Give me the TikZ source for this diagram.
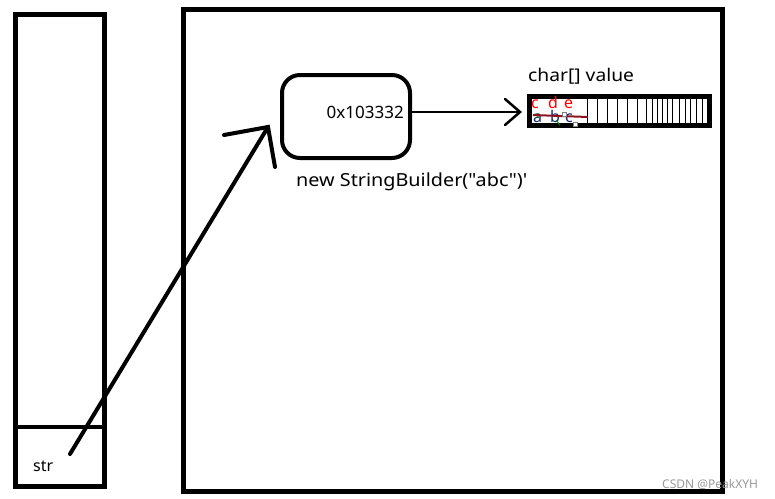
\documentclass[tikz,border=0pt]{standalone}
\usepackage{fontspec}
\setmainfont{Noto Sans}
\newfontfamily\uifont[FakeStretch=1.1]{Noto Sans}
\usetikzlibrary{calc}
\begin{document}
\begin{tikzpicture}[x=1pt,y=-1pt,
  heavy/.style={line width=5pt},
  objbox/.style={draw,line width=4pt,rounded corners=18pt},
  lbl/.style={inner sep=0pt,font=\uifont\fontsize{18}{18}\selectfont},
  cell/.style={line width=1pt},
  redch/.style={inner sep=0pt,anchor=base west,text=red,font=\fontsize{16}{16}\selectfont},
  bluech/.style={inner sep=0pt,anchor=base west,text={rgb,255:red,20;green,40;blue,110},font=\fontsize{16}{16}\selectfont},
  barb/.style={line width=4pt,line cap=round}]
\useasboundingbox (0,0) rectangle (775,498);
% stack frame
\draw[heavy] (15.5,14.5) rectangle (104.5,486);
\draw[line width=4pt] (15.5,427) -- (104.5,427);
\node[inner sep=0pt,anchor=west,font=\fontsize{16}{16}\selectfont] (str) at (33,466) {str};
% heap
\draw[heavy] (183,9.5) rectangle (722,491);
% object box
\node[objbox,minimum width=128pt,minimum height=83pt] (obj) at (346,116.5) {};
\node[inner sep=0pt,anchor=east,font=\fontsize{17}{17}\selectfont] (addr) at (404,112) {0x103332};
\node[lbl,anchor=west] (sbname) at (296,182) {new StringBuilder(\symbol{34}abc\symbol{34})\symbol{39}};
% array
\node[inner sep=0pt,anchor=west,font=\uifont\fontsize{17.5}{17.5}\selectfont] (arrname) at (528,76) {char[] value};
\node[draw,line width=4.5pt,minimum width=180pt,minimum height=29pt,inner sep=0pt] (arr) at (619.5,111) {};
\foreach \xx in {587,597,607,617,627,637,646,652,657,662,667,672,679,685,690,696,702}
  \draw[cell] (\xx,97) -- (\xx,125);
\node[redch] (c1) at (531,108) {c};
\node[redch] (d1) at (548,108) {d};
\node[redch] (e1) at (564,108) {e};
\node[bluech] (a2) at (533,122.5) {a};
\node[bluech] (b2) at (550,122.5) {b};
\node[bluech] (c2) at (565,122.5) {c};
\draw[line width=0.8pt,green!60!black] (534,114) -- (540,118);
\draw[line width=0.8pt,green!60!black] (556,120) -- (560,125);
\draw[line width=2pt,color={rgb,255:red,140;green,20;blue,30}] (533,115) -- (588,117);
\draw[fill=white,draw=gray,line width=0.8pt] (562,112) rectangle (566,116);
\draw[fill=white,draw=gray,line width=0.8pt] (573,122) rectangle (577,126);
% arrow obj -> array
\coordinate (tip1) at (520,112);
\draw[line width=2.5pt] (obj.east |- addr) -- (tip1);
\draw[line width=2.5pt,line cap=round] ($(tip1)+(-15,-13)$) -- (tip1) -- ($(tip1)+(-15,13)$);
% long arrow str -> obj
\coordinate (s0) at (70,454);
\coordinate (tip2) at (268,127);
\draw[barb] (s0) -- (tip2);
\draw[barb] (224,135) -- (tip2) -- (275,167);
% watermark
\node[inner sep=0pt,anchor=west,text=gray!80,font=\fontsize{12}{12}\selectfont] (wm) at (662,484) {CSDN @PeakXYH};
\end{tikzpicture}
\end{document}
